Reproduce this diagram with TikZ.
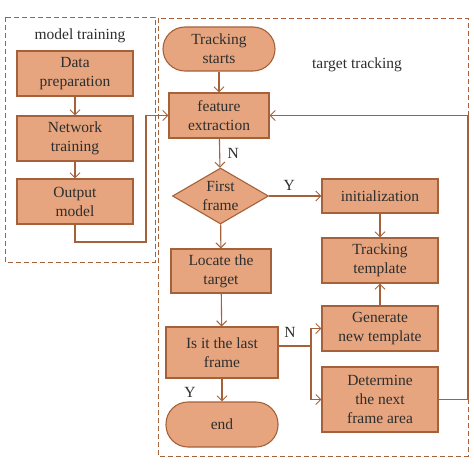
\documentclass[tikz,border=0pt]{standalone}
\usepackage{fontspec}
\setmainfont{Liberation Serif}
\usetikzlibrary{arrows.meta,shapes.geometric,calc}
\definecolor{boxfill}{HTML}{E6A57E}
\definecolor{boxline}{HTML}{A5613A}
\definecolor{txt}{HTML}{2E2E2E}
\begin{document}
\begin{tikzpicture}[x=1pt,y=-1pt,
  every node/.style={text=txt,font=\fontsize{15.5}{19}\selectfont},
  blk/.style={draw=boxline,fill=boxfill,line width=1.1pt,align=center,inner sep=0pt},
  stad/.style={blk,rounded corners=22pt},
  dec/.style={draw=boxline,fill=boxfill,line width=1.1pt,align=center,diamond,aspect=1.7,inner sep=0pt,minimum width=96pt,minimum height=56pt},
  conn/.style={draw=boxline,line width=1.1pt},
  arr/.style={conn,-{Straight Barb[length=5pt,width=10pt,line width=1pt]}},
  frame/.style={draw=boxline,line width=0.9pt,dash pattern=on 5pt off 3pt},
  lbl/.style={text=txt}]
\useasboundingbox (0,0) rectangle (474,474);
% dashed frames
\draw[frame] (5,17) rectangle (155,262);
\draw[frame] (158,18) rectangle (468,456);
\node[lbl] (mtl) at (80,36) {model training};
\node[lbl] (ttl) at (357,65) {target tracking};
% left column
\node[blk,minimum width=116pt,minimum height=45pt] (dp) at (75,73.5) {Data\\preparation};
\node[blk,minimum width=116pt,minimum height=45pt] (nt) at (75,138.5) {Network\\training};
\node[blk,minimum width=116pt,minimum height=45pt] (om) at (75,201.5) {Output\\model};
% main column
\node[stad,minimum width=112pt,minimum height=44pt] (ts) at (219,49) {Tracking\\starts};
\node[blk,minimum width=100pt,minimum height=45pt] (fe) at (219,115.5) {feature\\extraction};
\node[dec] (ff) at (220.5,196) {First\\frame};
\node[blk,minimum width=100pt,minimum height=44pt] (lt) at (221,271) {Locate the\\target};
\node[blk,minimum width=112pt,minimum height=51pt] (lf) at (222,352.5) {Is it the last\\frame};
\node[stad,minimum width=112pt,minimum height=45pt] (en) at (222,424.5) {end};
% right column
\node[blk,minimum width=116pt,minimum height=34pt] (in) at (380,196) {initialization};
\node[blk,minimum width=116pt,minimum height=45pt] (tt) at (380,260.5) {Tracking\\template};
\node[blk,minimum width=116pt,minimum height=45pt] (gn) at (380,328.5) {Generate\\new template};
\node[blk,minimum width=116pt,minimum height=65pt] (dn) at (380,399.5) {Determine\\the next\\frame area};
% connectors
\draw[arr] (dp) -- (nt);
\draw[arr] (nt) -- (om);
\coordinate (c1) at (146,242);
\draw[arr] (om.south) |- (c1) |- (fe.west);
\draw[arr] (ts) -- (fe);
\draw[arr] (fe) -- node[lbl,right,xshift=4pt] (nlab) {N} (ff);
\draw[arr] (ff) -- node[lbl,above,yshift=2pt,xshift=-6pt] (ylab) {Y} (in);
\draw[arr] (in) -- (tt);
\draw[arr] (ff) -- (lt);
\draw[arr] (lt) -- (lf);
\draw[arr] (lf) -- (en);
\node[lbl] (ylab2) at (190,392) {Y};
\coordinate (br) at (311,346);
\draw[conn] (lf.east |- br) -- (br);
\draw[arr] (br) |- (gn.west);
\draw[arr] (br) |- (dn.west);
\node[lbl] (nlab2) at (290,332) {N};
\draw[arr] (gn) -- (tt);
\coordinate (rt) at (468,115.5);
\draw[arr] (dn.east) -| (rt) -- (fe.east);
\end{tikzpicture}
\end{document}
